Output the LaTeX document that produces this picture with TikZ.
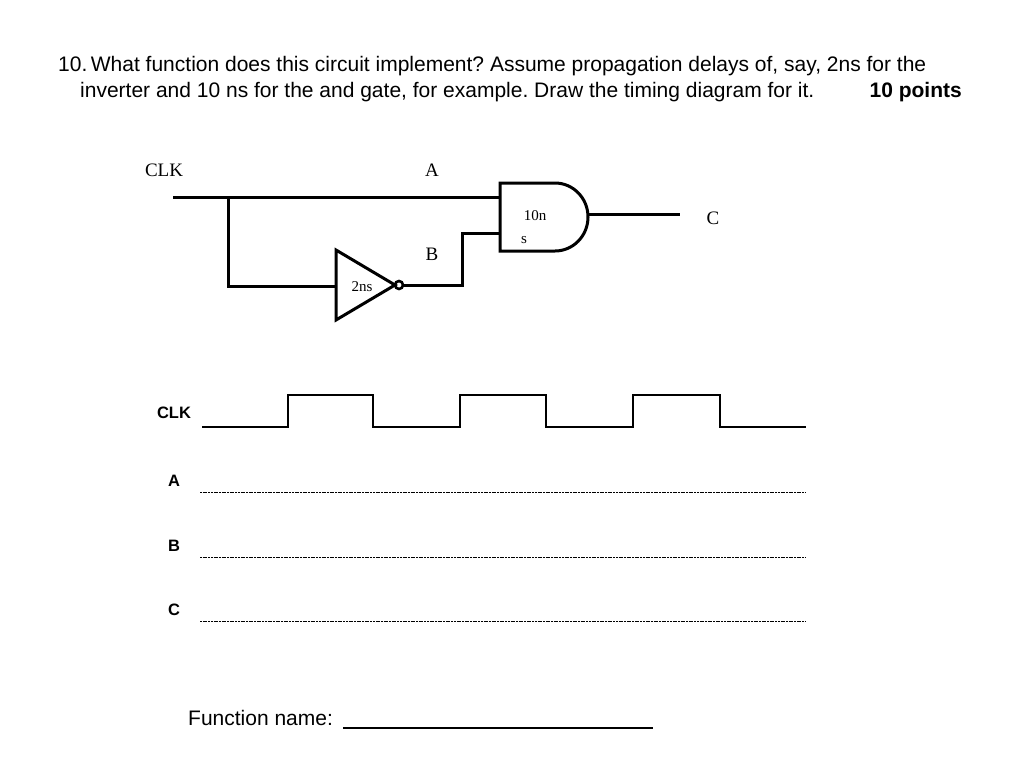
\documentclass[tikz,border=0pt]{standalone}
\usepackage{fontspec}
\setmainfont{Liberation Sans}
\newfontfamily\serifface{Liberation Serif}
\usetikzlibrary{positioning}
\frenchspacing
\tikzset{
	wire/.style={line width=3pt},
	serlabel/.style={font=\serifface\fontsize{19}{21}\selectfont, inner sep=0},
	siglabel/.style={font=\bfseries\fontsize{16.5}{18}\selectfont, inner sep=0},
	blankline/.style={line width=0.8pt, dash pattern=on 2pt off 0.7pt}
}
\begin{document}
\begin{tikzpicture}[x=1pt,y=-1pt]
	\useasboundingbox (0,0) rectangle (1024,780);
	
	% question
	\node[anchor=base west, inner sep=0, font=\fontsize{21}{23}\selectfont] (q1) at (58,71) {10.\,What function does this circuit implement? Assume propagation delays of, say, 2ns for the};
	\node[anchor=base west, inner sep=0, font=\fontsize{21}{23}\selectfont] (q2) at (80,97) {inverter and 10 ns for the and gate, for example. Draw the timing diagram for it.};
	\node[anchor=base east, inner sep=0, font=\bfseries\fontsize{21}{23}\selectfont] (pts) at (962,97) {10 points};
	
	% circuit
	\coordinate (in) at (173,197);
	\coordinate (tap) at (228,197);
	\coordinate (ga) at (500,197);
	\coordinate (gb) at (500,233);
	\coordinate (out) at (680,214);
	\draw[wire] (500,183) -- (555,183) arc (-90:90:33 and 34) -- (500,251) -- cycle;
	\draw[wire] (in) -- (ga);
	\draw[wire] (tap) -- (228,286) -- (336,286);
	\draw[wire, fill=white] (336,250) -- (395,285) -- (336,320) -- cycle;
	\draw[line width=2.6pt] (399,285) circle (4);
	\draw[wire] (403,285) -- (462,285) -- (462,233) -- (gb);
	\draw[wire] (588,214) -- (out);
	\node[serlabel] (clk) at (164,170) {CLK};
	\node[serlabel] (la) at (432,170) {A};
	\node[serlabel] (lb) at (432,254) {B};
	\node[serlabel] (lc) at (713,218) {C};
	\node[serlabel, font=\serifface\fontsize{15}{16}\selectfont] (inv) at (362,287) {2ns};
	\node[serlabel, font=\serifface\fontsize{15}{16}\selectfont] (d1) at (535,216) {10n};
	\node[serlabel, font=\serifface\fontsize{15}{16}\selectfont] (d2) at (524,240) {s};
	
	% timing
	\draw[line width=2.6pt] (202,427) -- (288,427) -- (288,395) -- (373,395) -- (373,427) -- (460,427)
		-- (460,395) -- (546,395) -- (546,427) -- (633,427) -- (633,395) -- (720,395) -- (720,427) -- (806,427);
	\node[siglabel] (tclk) at (174,413) {CLK};
	\foreach \s/\y in {A/492, B/557, C/621}{
		\node[siglabel] (t\s) at (174,\y-11) {\s};
		\draw[blankline] (200,\y) -- (806,\y);
	}
	
	% answer line
	\node[anchor=base west, inner sep=0, font=\fontsize{21}{23}\selectfont] (fn) at (188,725) {Function name:};
	\draw[line width=1.3pt] (343,728) -- (653,728);
\end{tikzpicture}
\end{document}
